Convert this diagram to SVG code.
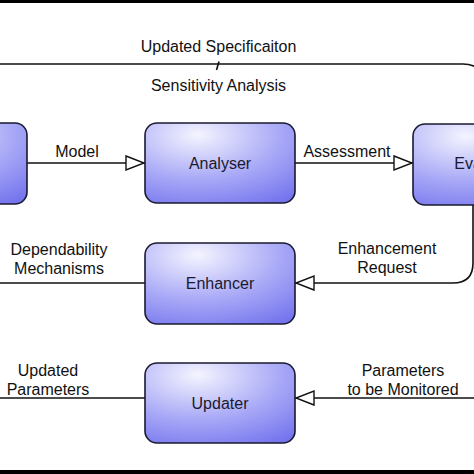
<svg xmlns="http://www.w3.org/2000/svg" width="474" height="474" viewBox="0 0 474 474">
<defs>
<radialGradient id="g" cx="0.35" cy="0.15" r="1" fx="0.35" fy="0.15">
<stop offset="0" stop-color="#f4f4ff"/>
<stop offset="0.55" stop-color="#a9a9f7"/>
<stop offset="1" stop-color="#7474ee"/>
</radialGradient>
<marker id="arr" markerWidth="22" markerHeight="16" refX="20" refY="8" orient="auto" markerUnits="userSpaceOnUse">
<path d="M1,1 L19,8 L1,15 Z" fill="#fff" stroke="#111" stroke-width="1.4"/>
</marker>
</defs>
<style>
.box{fill:url(#g);stroke:#1a1a30;stroke-width:1.6}
.bt{font-family:"Liberation Sans",Arial,sans-serif;font-size:16px;fill:#1a1a2e;text-anchor:middle}
.lb{font-family:"Liberation Sans",Arial,sans-serif;font-size:16px;fill:#111;text-anchor:middle}
.ln{fill:none;stroke:#111;stroke-width:1.6}
</style>
<rect x="0" y="0" width="474" height="474" fill="#fff"/>
<rect x="0" y="0" width="474" height="3" fill="#000"/>
<rect x="0" y="470" width="474" height="4" fill="#000"/>
<g id="connectors">
<path class="ln" d="M0,64 H463 Q470,64 476,67"/>
<path class="ln" d="M216.5,70 L219,61.5"/>
<path class="ln" d="M27,163 H145" marker-end="url(#arr)"/>
<path class="ln" d="M295,163 H413" marker-end="url(#arr)"/>
<path class="ln" d="M473,205 V263 Q473,283 453,283 H295" marker-end="url(#arr)"/>
<path class="ln" d="M145,283 H0"/>
<path class="ln" d="M474,398 H295" marker-end="url(#arr)"/>
<path class="ln" d="M145,398 H0"/>
</g>
<g id="labels">
<text class="lb" x="218.5" y="52">Updated Specificaiton</text>
<text class="lb" x="218.5" y="91">Sensitivity Analysis</text>
<text class="lb" x="77" y="157">Model</text>
<text class="lb" x="347" y="157">Assessment</text>
<text class="lb" x="387" y="254">Enhancement</text>
<text class="lb" x="387" y="273">Request</text>
<text class="lb" x="59" y="255">Dependability</text>
<text class="lb" x="59" y="274">Mechanisms</text>
<text class="lb" x="48" y="376">Updated</text>
<text class="lb" x="48" y="395">Parameters</text>
<text class="lb" x="403" y="376">Parameters</text>
<text class="lb" x="403" y="395">to be Monitored</text>
</g>
<g id="left-node"><rect class="box" x="-123" y="123" width="150" height="81" rx="12"/></g>
<g id="analyser"><rect class="box" x="145" y="123" width="150" height="80" rx="12"/><text class="bt" x="220" y="169">Analyser</text></g>
<g id="evaluator"><rect class="box" x="413" y="124" width="150" height="81" rx="12"/><text class="bt" x="488" y="169">Evaluator</text></g>
<g id="enhancer"><rect class="box" x="145" y="243" width="150" height="81" rx="12"/><text class="bt" x="220" y="289">Enhancer</text></g>
<g id="updater"><rect class="box" x="145" y="363" width="150" height="80" rx="12"/><text class="bt" x="220" y="409">Updater</text></g>
</svg>
